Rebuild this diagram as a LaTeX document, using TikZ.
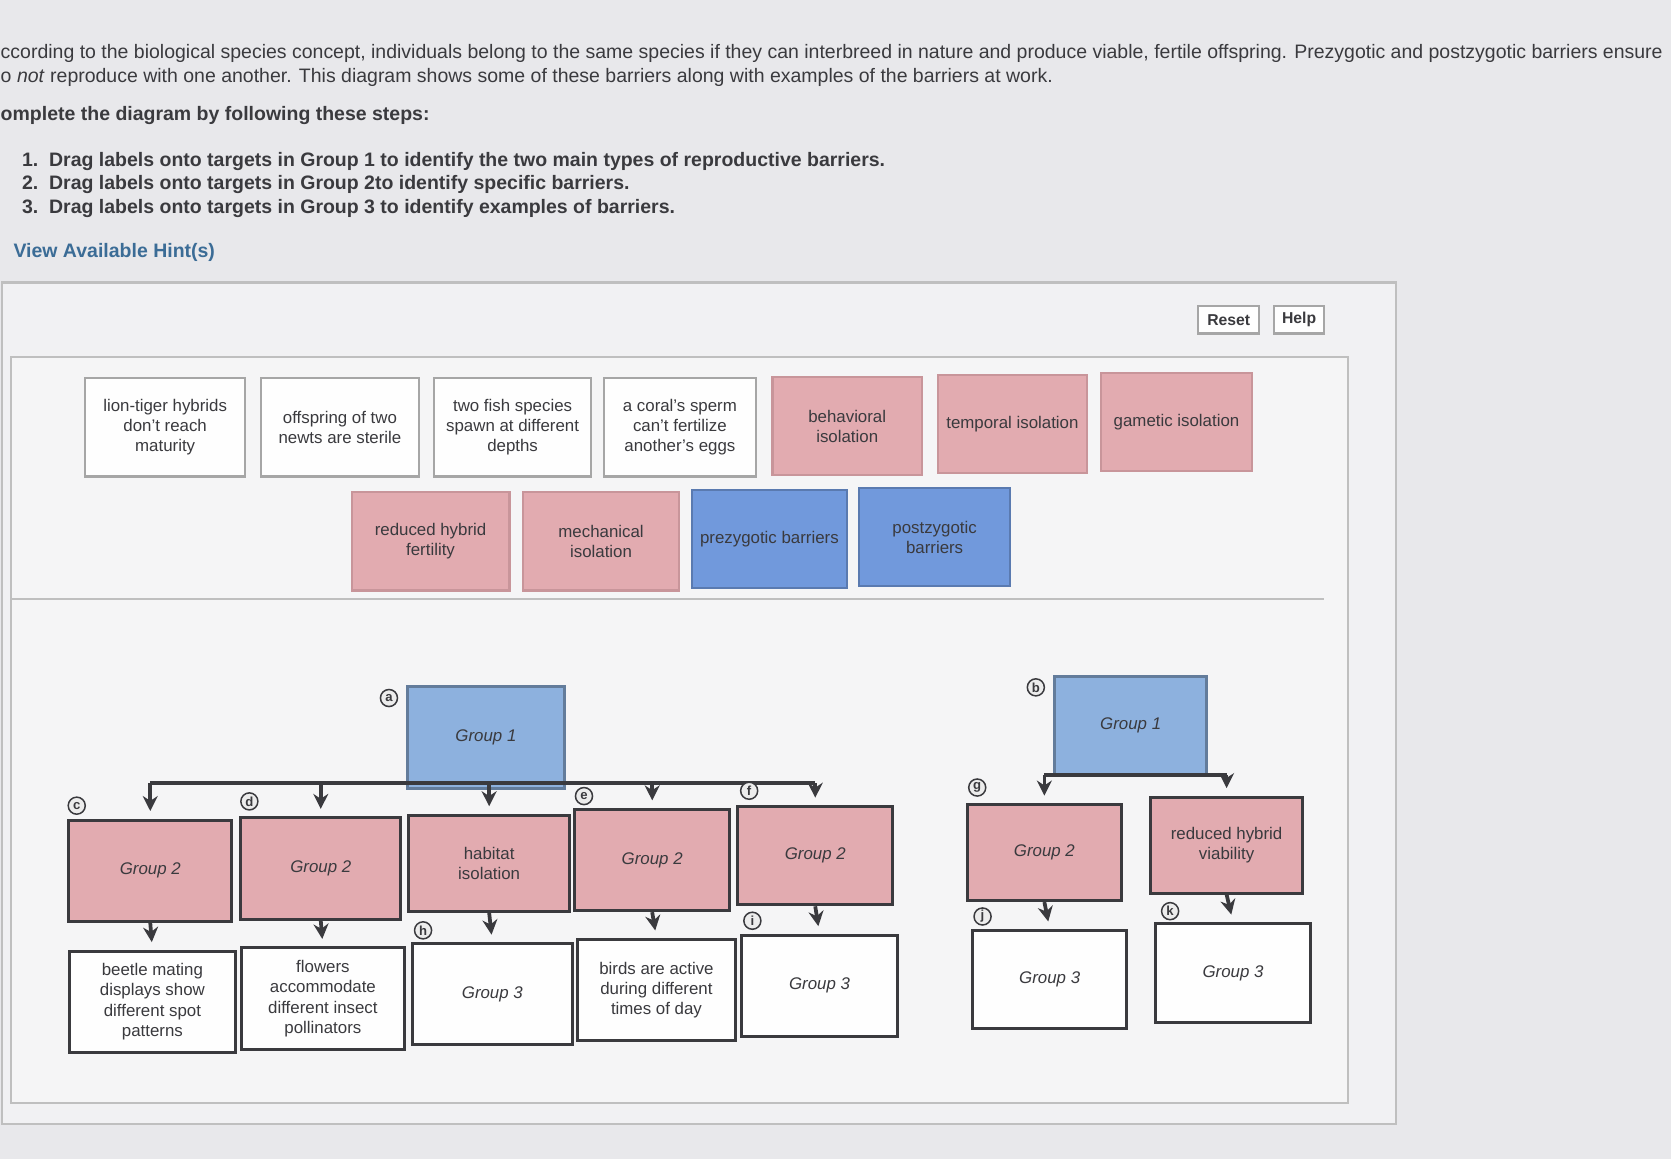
\documentclass[tikz,border=0pt]{standalone}
\usepackage{fontspec}
\setmainfont{Liberation Sans}
\usetikzlibrary{arrows.meta,positioning}
\definecolor{bg}{HTML}{E8E8EB}
\definecolor{redf}{HTML}{E2ABB0}
\definecolor{redd}{HTML}{C8959A}
\definecolor{bluef}{HTML}{7199DC}
\definecolor{blueg}{HTML}{8DB1DE}
\definecolor{ink}{HTML}{3A3A3E}
\definecolor{hint}{HTML}{3B6C96}
\tikzset{
    txt/.style={font=\fontsize{4.5}{5.4}\selectfont, text=ink, align=center, inner sep=1pt},
    head/.style={txt, anchor=west, inner sep=0pt, font=\fontsize{5.2}{6}\selectfont},
    tile/.style={txt, draw=gray!70, fill=white!96!bg, line width=0.6pt, minimum height=0.92cm},
    redtile/.style={tile, fill=redf, draw=redd},
    bluetile/.style={tile, fill=bluef, draw=bluef!80!black},
    grp/.style={txt, draw=ink, line width=0.8pt, fill=white!97!bg, minimum height=0.95cm, font=\fontsize{4.5}{5.4}\selectfont\itshape},
    redgrp/.style={grp, fill=redf},
    bluegrp/.style={grp, fill=blueg, draw=blueg!70!black},
    arr/.style={-{Stealth[length=4pt,width=4pt]}, draw=ink, line width=1pt, shorten >=2pt},
    ln/.style={draw=ink, line width=1pt},
    circ/.style={circle, draw=ink, fill=gray!15, inner sep=0.2pt, minimum size=0.16cm, font=\fontsize{3.5}{4}\selectfont\bfseries, text=ink}
}
\begin{document}
\begin{tikzpicture}[x=0.01cm, y=-0.01cm]
\useasboundingbox (0,0) rectangle (1568,1088);
\fill[bg] (0,0) rectangle (1568,1088);
\clip (0,0) rectangle (1568,1088);
% header
\node[head] at (0,50) {ccording to the biological species concept, individuals belong to the same species if they can interbreed in nature and produce viable, fertile offspring. Prezygotic and postzygotic barriers ensure};
\node[head] at (0,73) {o \emph{not} reproduce with one another. This diagram shows some of these barriers along with examples of the barriers at work.};
\node[head, font=\fontsize{5.2}{6}\selectfont\bfseries] at (0,108) {omplete the diagram by following these steps:};
\foreach \y/\n/\s in {
    152/1./Drag labels onto targets in Group 1 to identify the two main types of reproductive barriers.,
    173/2./Drag labels onto targets in Group 2to identify specific barriers.,
    196/3./Drag labels onto targets in Group 3 to identify examples of barriers.
}{
    \node[head, font=\fontsize{5.2}{6}\selectfont\bfseries] at (20,\y) {\n\ \ \s};
}
\node[head, text=hint, font=\fontsize{5.2}{6}\selectfont\bfseries] at (12,237) {View Available Hint(s)};
% panels
\draw[gray!50, fill=white!40!bg, line width=0.6pt] (2,265) rectangle (1310,1055);
\draw[gray!50, fill=white!55!bg, line width=0.6pt] (10,335) rectangle (1265,1035);
\draw[gray!50, line width=0.6pt] (10,562) -- (1242,562);
\node[tile, minimum width=0.57cm, minimum height=0.26cm, font=\fontsize{4.2}{5}\selectfont\bfseries] (reset) at (1153,300) {Reset};
\node[tile, minimum width=0.47cm, minimum height=0.26cm, font=\fontsize{4.2}{5}\selectfont\bfseries] (help) at (1219,300) {Help};
% label tiles
\node[tile, minimum width=1.50cm] (liontiger) at (155,401) {lion-tiger hybrids\\don't reach\\maturity};
\node[tile, minimum width=1.48cm] (newts) at (319,401) {offspring of two\\newts are sterile};
\node[tile, minimum width=1.47cm] (fish) at (481,401) {two fish species\\spawn at different\\depths};
\node[tile, minimum width=1.43cm] (coral) at (638,401) {a coral's sperm\\can't fertilize\\another's eggs};
\node[redtile, minimum width=1.40cm] (behav) at (795,400) {behavioral\\isolation};
\node[redtile, minimum width=1.40cm] (tempo) at (950,398) {temporal isolation};
\node[redtile, minimum width=1.42cm] (gamet) at (1104,396) {gametic isolation};
\node[redtile, minimum width=1.48cm] (rhfert) at (404,508) {reduced hybrid\\fertility};
\node[redtile, minimum width=1.46cm] (mech) at (564,508) {mechanical\\isolation};
\node[bluetile, minimum width=1.45cm] (prez) at (722,506) {prezygotic barriers};
\node[bluetile, minimum width=1.42cm] (postz) at (877,504) {postzygotic\\barriers};
% left tree
\node[bluegrp, minimum width=1.47cm] (gA) at (456,692) {Group 1};
\node[redgrp, minimum width=1.53cm] (gC) at (141,817) {Group 2};
\node[redgrp, minimum width=1.50cm] (gD) at (301,815) {Group 2};
\node[redgrp, minimum width=1.51cm, minimum height=0.9cm, font=\fontsize{4.5}{5.4}\selectfont] (gH) at (459,810) {habitat\\isolation};
\node[redgrp, minimum width=1.45cm] (gE) at (612,807) {Group 2};
\node[redgrp, minimum width=1.45cm, minimum height=0.92cm] (gF) at (765,803) {Group 2};
\node[grp, minimum width=1.55cm, font=\fontsize{4.5}{5.4}\selectfont] (eC) at (143,940) {beetle mating\\displays show\\different spot\\patterns};
\node[grp, minimum width=1.53cm, font=\fontsize{4.5}{5.4}\selectfont] (eD) at (303,937) {flowers\\accommodate\\different insect\\pollinators};
\node[grp, minimum width=1.50cm] (eH) at (462,933) {Group 3};
\node[grp, minimum width=1.49cm, font=\fontsize{4.5}{5.4}\selectfont] (eE) at (616,929) {birds are active\\during different\\times of day};
\node[grp, minimum width=1.46cm] (eI) at (769,925) {Group 3};
\coordinate (barA) at (0,735);
\draw[ln] (gC.north |- barA) -- (gF.north |- barA);
\foreach \n in {gC,gD,gH,gE,gF}{
    \draw[arr] (\n.north |- barA) -- (\n.north);
}
\foreach \a/\b in {gC/eC,gD/eD,gH/eH,gE/eE,gF/eI}{
    \draw[arr] (\a.south) -- (\b.north);
}
% right tree
\node[bluegrp, minimum width=1.42cm, minimum height=0.92cm] (gB) at (1061,681) {Group 1};
\node[redgrp, minimum width=1.44cm, minimum height=0.9cm] (gG) at (980,800) {Group 2};
\node[redgrp, minimum width=1.43cm, minimum height=0.9cm, font=\fontsize{4.5}{5.4}\selectfont] (rhv) at (1151,793) {reduced hybrid\\viability};
\node[grp, minimum width=1.44cm, minimum height=0.92cm] (eJ) at (985,919) {Group 3};
\node[grp, minimum width=1.45cm, minimum height=0.93cm] (eK) at (1157,913) {Group 3};
\coordinate (barB) at (0,727);
\draw[ln] (gG.north |- barB) -- (rhv.north |- barB);
\draw[arr] (gG.north |- barB) -- (gG.north);
\draw[arr] (rhv.north |- barB) -- (rhv.north);
\draw[arr] (gG.south) -- (eJ.north);
\draw[arr] (rhv.south) -- (eK.north);
% markers
\foreach \l/\x/\y in {a/365/655, b/972/645, c/72/756, d/234/752, e/548/747, f/703/742, g/917/739, h/397/873, i/706/864, j/922/860, k/1098/855}{
    \node[circ] (m\l) at (\x,\y) {\l};
}
\end{tikzpicture}
\end{document}
